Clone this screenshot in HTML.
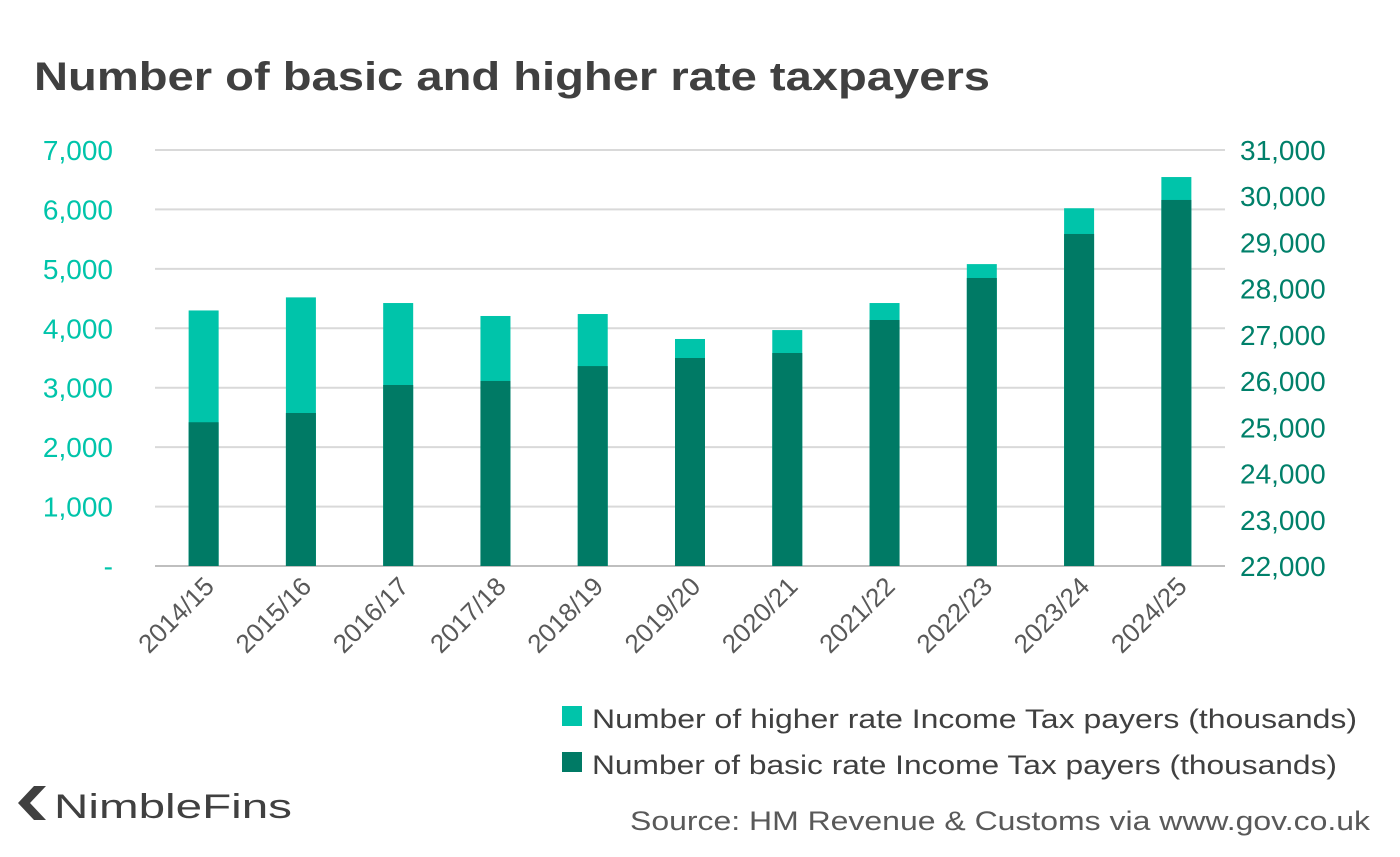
<!DOCTYPE html>
<html><head><meta charset="utf-8"><style>
body{margin:0;background:#fff;font-family:"Liberation Sans",sans-serif}
svg text{font-family:"Liberation Sans",sans-serif}
</style></head><body>
<svg id="chart" width="1400" height="852" viewBox="0 0 1400 852">
<text x="34" y="90" font-size="40" font-weight="bold" fill="#404040" textLength="956" lengthAdjust="spacingAndGlyphs">Number of basic and higher rate taxpayers</text>
<g id="grid"></g><g id="bars"></g><g id="axes"></g>
<g>
<rect x="562" y="706" width="20" height="20" fill="#00c4aa"/>
<text x="592" y="728" font-size="27" fill="#404040" textLength="765" lengthAdjust="spacingAndGlyphs">Number of higher rate Income Tax payers (thousands)</text>
<rect x="562" y="752" width="20" height="20" fill="#007a65"/>
<text x="592" y="774" font-size="27" fill="#404040" textLength="745" lengthAdjust="spacingAndGlyphs">Number of basic rate Income Tax payers (thousands)</text>
</g>
<g>
<path d="M34 786 L18 803 L34 820 L46 820 L30 803 L46 786 Z" fill="#404040"/>
<text x="54" y="818" font-size="34" fill="#404040" textLength="238" lengthAdjust="spacingAndGlyphs">NimbleFins</text>
</g>
<text x="1370" y="830" text-anchor="end" font-size="27" fill="#595959" textLength="740" lengthAdjust="spacingAndGlyphs">Source: HM Revenue &amp; Customs via www.gov.co.uk</text>
</svg>
<script>
const categories=["2014/15","2015/16","2016/17","2017/18","2018/19","2019/20","2020/21","2021/22","2022/23","2023/24","2024/25"];
const higherRate=[4300,4520,4425,4207,4240,3820,3970,4425,5080,6020,6545];
const basicRate=[25110,25310,25916,26003,26325,26500,26608,27322,28231,29183,29919];
const leftTicks=[0,1000,2000,3000,4000,5000,6000,7000];
const rightTicks=[22000,23000,24000,25000,26000,27000,28000,29000,30000,31000];
const NS="http://www.w3.org/2000/svg";
const x0=155,x1=1225,yB=566,yT=150;
const yL=v=>yB-(v-0)/7000*(yB-yT);
const yR=v=>yB-(v-22000)/9000*(yB-yT);
const band=(x1-x0)/categories.length;
const xC=i=>x0+band*(i+0.5);
function mk(tag,attrs,parent,txt){const e=document.createElementNS(NS,tag);for(const k in attrs)e.setAttribute(k,attrs[k]);if(txt!==undefined)e.textContent=txt;document.getElementById(parent).appendChild(e);return e;}
leftTicks.forEach(t=>{
 const g=mk("line",{x1:x0,x2:x1,y1:yL(t),y2:yL(t),stroke:t===0?"#bfbfbf":"#d9d9d9","stroke-width":2},"grid");
 
 
 const l=mk("text",{x:113,y:yL(t)+10,"text-anchor":"end","font-size":28,fill:"#00c4aa"},"axes",t===0?"-":t.toLocaleString("en-US"));
 
 
});
rightTicks.forEach(t=>{
 const l=mk("text",{x:1240,y:yR(t)+10,"font-size":28,fill:"#00806a"},"axes",t.toLocaleString("en-US"));
 
 
});
const bw=30;
categories.forEach((c,i)=>{
 const h=mk("rect",{x:xC(i)-bw/2,y:yL(higherRate[i]),width:bw,height:yB-yL(higherRate[i]),fill:"#00c4aa"},"bars");
 
 
 const b=mk("rect",{x:xC(i)-bw/2,y:yR(basicRate[i]),width:bw,height:yB-yR(basicRate[i]),fill:"#007a65"},"bars");
 
 
 const cx=xC(i)+12,cy=588;
 const l=mk("text",{x:cx,y:cy,"text-anchor":"end","font-size":26,fill:"#595959",transform:`rotate(-45 ${cx} ${cy})`},"axes",c);
 
 
});
</script>
</body></html>
